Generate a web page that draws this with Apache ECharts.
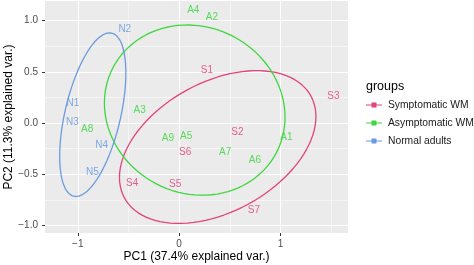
<!DOCTYPE html>
<html><head><meta charset="utf-8">
<script src="https://cdn.jsdelivr.net/npm/echarts@6/dist/echarts.min.js"></script>
<style>html,body{margin:0;padding:0;background:#fff}#c{width:474px;height:265px}</style>
</head><body><div id="c"></div>
<script>
// Group names
const groups = ['Symptomatic WM', 'Asymptomatic WM', 'Normal adults'];
// PCA scores (PC1, PC2) per sample
const symLabels = ['S1','S2','S3','S4','S5','S6','S7'];
const symPC1 = [0.275, 0.575, 1.523, -0.464, -0.039, 0.059, 0.738];
const symPC2 = [0.518, -0.091, 0.257, -0.590, -0.596, -0.290, -0.850];
const asyLabels = ['A1','A2','A3','A4','A5','A6','A7','A8','A9'];
const asyPC1 = [1.059, 0.324, -0.389, 0.140, 0.069, 0.748, 0.454, -0.907, -0.111];
const asyPC2 = [-0.137, 1.038, 0.127, 1.098, -0.130, -0.362, -0.286, -0.062, -0.149];
const norLabels = ['N1','N2','N3','N4','N5'];
const norPC1 = [-1.049, -0.536, -1.054, -0.765, -0.856];
const norPC2 = [0.192, 0.916, 0.005, -0.222, -0.482];
// Tick values
const xTicks = [-1, 0, 1];
const xMinor = [-0.5, 0.5, 1.5];
const yTicks = [-1, -0.5, 0, 0.5, 1];
const yMinor = [-0.75, -0.25, 0.25, 0.75];

const colors = ['#E3437A', '#3FD63F', '#6A9BE0'];

// Normal-probability (68%) data ellipse, as in ggbiplot
function ellipse(xs, ys) {
  const n = xs.length;
  const mx = xs.reduce((a, b) => a + b, 0) / n;
  const my = ys.reduce((a, b) => a + b, 0) / n;
  let sxx = 0, syy = 0, sxy = 0;
  for (let i = 0; i < n; i++) {
    sxx += (xs[i] - mx) ** 2; syy += (ys[i] - my) ** 2; sxy += (xs[i] - mx) * (ys[i] - my);
  }
  sxx /= n - 1; syy /= n - 1; sxy /= n - 1;
  const r11 = Math.sqrt(sxx), r12 = sxy / r11, r22 = Math.sqrt(syy - r12 * r12);
  const ed = Math.sqrt(-2 * Math.log(1 - 0.68));
  const pts = [];
  const N = 100;
  for (let k = 0; k <= N; k++) {
    const t = -Math.PI + 2 * Math.PI * k / N;
    const c = Math.cos(t), s = Math.sin(t);
    pts.push([mx + ed * c * r11, my + ed * (c * r12 + s * r22)]);
  }
  return pts;
}

const sets = [[symLabels, symPC1, symPC2], [asyLabels, asyPC1, asyPC2], [norLabels, norPC1, norPC2]];
const series = [];
sets.forEach((s, g) => {
  series.push({
    name: groups[g], type: 'line', data: ellipse(s[1], s[2]), showSymbol: false, symbol: 'none',
    lineStyle: { color: colors[g], width: 1.3 }, itemStyle: { color: colors[g] }, silent: true, animation: false, z: 3
  });
  series.push({
    name: groups[g], type: 'scatter', symbolSize: 1, itemStyle: { color: 'transparent' },
    data: s[0].map((l, i) => [s[1][i], s[2][i], l]),
    label: { show: true, position: 'inside', formatter: p => p.data[2], color: colors[g], opacity: 0.85,
      fontSize: 10, fontFamily: 'Liberation Sans, Arial, sans-serif' },
    animation: false, z: 4
  });
});

const icon = 'path://M0,4.6H16V5.4H0Z M5.5,2.5H10.5V7.5H5.5Z';
const fam = 'Liberation Sans, Arial, sans-serif';
const chart = echarts.init(document.getElementById('c'));
chart.setOption({
  animation: false,
  grid: { left: 45, right: 126, top: 1, bottom: 32, show: true, backgroundColor: '#EBEBEB', borderWidth: 0,
    containLabel: false, outerBoundsMode: 'none' },
  title: { text: 'groups', left: 366, top: 80, padding: 0,
    textStyle: { fontSize: 12.5, fontWeight: 'normal', color: '#000', fontFamily: fam } },
  legend: {
    orient: 'vertical', left: 366, top: 100, padding: 0, itemGap: 8, itemWidth: 16, itemHeight: 5,
    data: groups.map(g => ({ name: g, icon: icon })),
    textStyle: { fontSize: 10.3, color: '#1a1a1a', fontFamily: fam, padding: [0, 0, 0, 1] },
    selectedMode: false
  },
  xAxis: [{
    type: 'value', min: -1.3235, max: 1.667, position: 'bottom',
    name: 'PC1 (37.4% explained var.)', nameLocation: 'middle', nameGap: 18, nameMoveOverlap: false,
    nameTextStyle: { fontSize: 12, color: '#000', fontFamily: fam },
    axisLine: { show: false, onZero: false },
    axisTick: { show: true, customValues: xTicks, length: 3, lineStyle: { color: '#333' } },
    axisLabel: { customValues: xTicks, fontSize: 10, color: '#4D4D4D', margin: 6, fontFamily: fam,
      formatter: v => String(v).replace('-', '\u2212') },
    splitLine: { show: true, lineStyle: { color: '#fff', width: 1.1 } }
  }, {
    type: 'value', min: -1.3235, max: 1.667, show: true, position: 'bottom',
    axisLine: { show: false, onZero: false }, axisLabel: { show: false },
    axisTick: { show: false, customValues: xMinor },
    splitLine: { show: true, lineStyle: { color: '#fff', width: 0.5 } }
  }],
  yAxis: [{
    type: 'value', min: -1.075, max: 1.193, position: 'left',
    name: 'PC2 (11.3% explained var.)', nameLocation: 'middle', nameGap: 30, nameMoveOverlap: false,
    nameTextStyle: { fontSize: 12, color: '#000', fontFamily: fam },
    axisLine: { show: false, onZero: false },
    axisTick: { show: true, customValues: yTicks, length: 3, lineStyle: { color: '#333' } },
    axisLabel: { customValues: yTicks, fontSize: 10, color: '#4D4D4D', margin: 7, fontFamily: fam,
      formatter: v => v.toFixed(1).replace('-', '\u2212') },
    splitLine: { show: true, lineStyle: { color: '#fff', width: 1.1 } }
  }, {
    type: 'value', min: -1.075, max: 1.193, show: true, position: 'left',
    axisLine: { show: false, onZero: false }, axisLabel: { show: false },
    axisTick: { show: false, customValues: yMinor },
    splitLine: { show: true, lineStyle: { color: '#fff', width: 0.5 } }
  }],
  series: series
});
</script></body></html>
